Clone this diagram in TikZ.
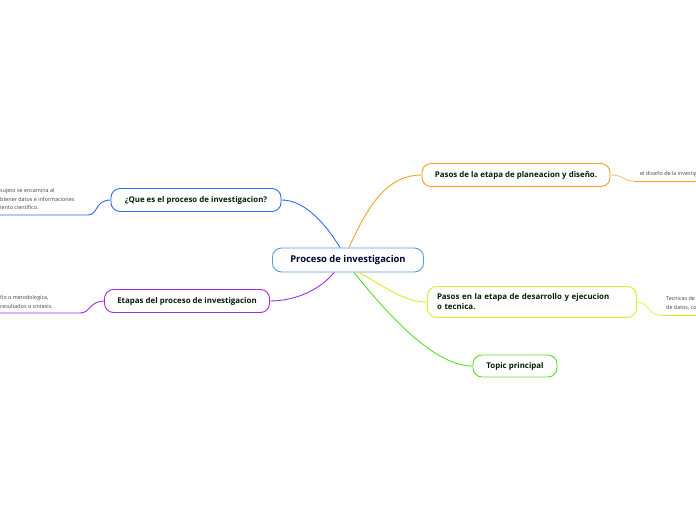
\documentclass[tikz,border=0pt]{standalone}
\usepackage{fontspec}
\setmainfont{Open Sans}
\begin{document}
\begin{tikzpicture}[x=1pt,y=-1pt,
  box/.style={draw,rounded corners=9pt,line width=0.9pt,minimum height=23pt,font=\fontsize{7.9}{10}\selectfont\bfseries,text=black!70!green!40!black,inner xsep=8pt},
  leaf/.style={font=\fontsize{5.4}{8.6}\selectfont,text=black!75,anchor=west,align=left,inner sep=0pt},
  con/.style={line width=0.9pt}]
\useasboundingbox[fill=white] (0,0) rectangle (696,520);
\clip (0,0) rectangle (696,520);
\definecolor{cblue}{HTML}{2E6BF0}\definecolor{cpurp}{HTML}{A52AE8}
\definecolor{corng}{HTML}{F5A020}\definecolor{cyel}{HTML}{D8EE22}
\definecolor{cgrn}{HTML}{55E022}\definecolor{ccen}{HTML}{5B9BD5}
\node[box,draw=ccen,minimum width=151pt,minimum height=24pt,text=black!60!blue!50!black,font=\fontsize{9.4}{11}\selectfont\bfseries] (c) at (348,260) {Proceso de investigacion};
\node[box,draw=cblue,minimum width=170pt] (q) at (196,200) {¿Que es el proceso de investigacion?};
\node[box,draw=cpurp,minimum width=165pt] (e) at (187,301) {Etapas del proceso de investigacion};
\node[box,draw=corng,minimum width=188pt] (p) at (516,175) {Pasos de la etapa de planeacion y diseño.};
\node[box,draw=cyel,minimum width=209pt,minimum height=31pt,align=left,text width=190pt] (d) at (532,302) {Pasos en la etapa de desarrollo y ejecucion\\o tecnica.};
\node[box,draw=cgrn,minimum width=84pt,minimum height=22pt] (t) at (515,366) {Topic principal};
% leaves
\node[leaf] (lq) at (0,199) {sujeto se encamina al\\btener datos e informaciones\\iento científico.};
\coordinate (lq1) at (0,215); \coordinate (lq2) at (88,215);
\node[leaf] (le) at (0,302) {ño o metodologica,\\resultados o síntesis.};
\coordinate (le1) at (0,313); \coordinate (le2) at (80,313);
\node[leaf] (lp) at (640,174) {el diseño de la investigacion};
\coordinate (lp1) at (634,181); \coordinate (lp2) at (696,181);
\node[leaf] (ld) at (666,303) {Tecnicas de recoleccion\\de datos, con};
\coordinate (ld1) at (660,315); \coordinate (ld2) at (696,315);
% connectors
\draw[con,cblue] (c.north west)++(68,0) .. controls (320,215) and (300,200) .. (q.east);
\draw[con,cpurp] (c.south west)++(62,0) .. controls (320,290) and (295,301) .. (e.east);
\draw[con,corng] (c.north west)++(77,0) .. controls (370,200) and (390,175) .. (p.west);
\draw[con,cyel] (c.south west)++(87,0) .. controls (390,290) and (405,302) .. (d.west);
\draw[con,cgrn] (c.south west)++(82,0) .. controls (400,330) and (440,366) .. (t.west);
\draw[con,cblue] (lq1) -- (lq2) .. controls (98,215) and (95,200) .. (q.west);
\draw[con,cpurp] (le1) -- (le2) .. controls (90,313) and (90,301) .. (e.west);
\draw[con,corng!60] (p.east) .. controls (625,175) and (622,181) .. (lp1);
\draw[con,corng] (lp1) -- (lp2);
\draw[con,cyel!70] (d.east) .. controls (650,303) and (648,315) .. (ld1);
\draw[con,cyel] (ld1) -- (ld2);
\end{tikzpicture}
\end{document}
